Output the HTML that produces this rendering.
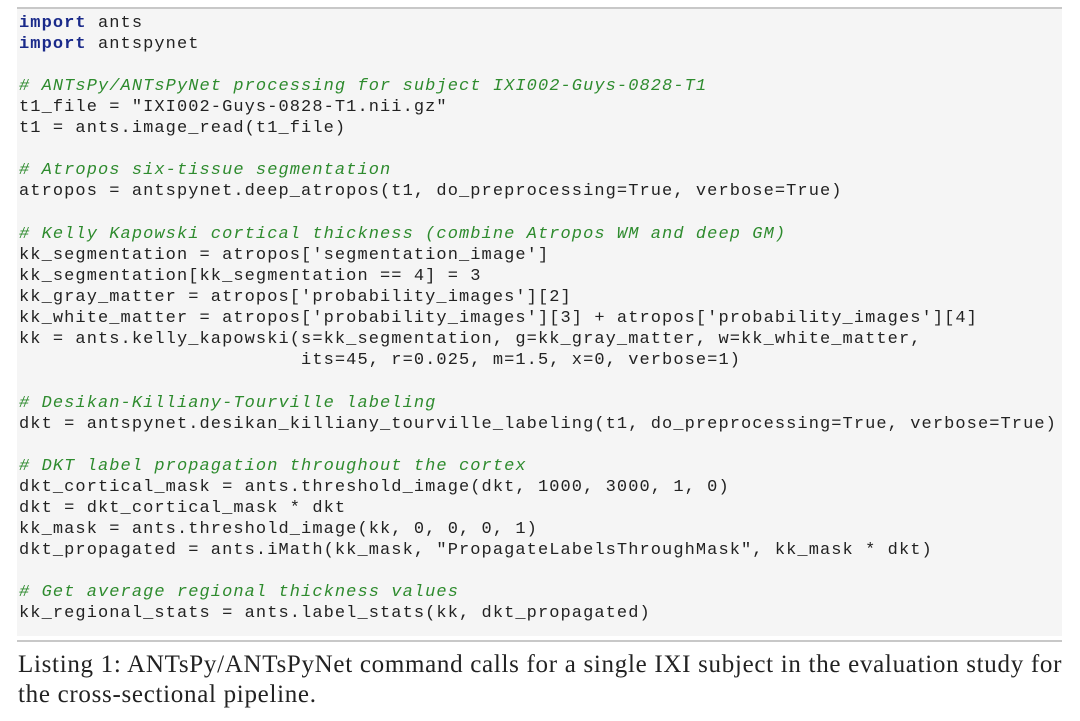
<!DOCTYPE html>
<html><head><meta charset="utf-8"><style>
body{margin:0;width:1080px;height:721px;background:#fff;overflow:hidden;position:relative}
.box{position:absolute;left:17px;top:9px;width:1045px;height:627px;background:#f5f5f5}
.rt{position:absolute;left:17px;width:1045px;height:2px;background:#c8c8c8}
.l{position:absolute;left:19px;font-family:"Liberation Mono",monospace;font-size:17px;letter-spacing:1.08px;color:#222;white-space:pre;line-height:21px}
.k{color:#1a2a8a;font-weight:bold}
.c{color:#2e8b2e;font-style:italic}
.cap{position:absolute;left:18px;font-family:"Liberation Serif",serif;font-size:25px;letter-spacing:0.7px;color:#222;white-space:pre}
</style></head><body>
<div class="rt" style="top:7px"></div>
<div class="box"></div>
<div class="rt" style="top:640px"></div>
<div class="l" style="top:13px"><span class="k">import</span> ants</div>
<div class="l" style="top:34px"><span class="k">import</span> antspynet</div>
<div class="l c" style="top:76px"># ANTsPy/ANTsPyNet processing for subject IXI002-Guys-0828-T1</div>
<div class="l" style="top:97px">t1_file = "IXI002-Guys-0828-T1.nii.gz"</div>
<div class="l" style="top:118px">t1 = ants.image_read(t1_file)</div>
<div class="l c" style="top:160px"># Atropos six-tissue segmentation</div>
<div class="l" style="top:181px">atropos = antspynet.deep_atropos(t1, do_preprocessing=True, verbose=True)</div>
<div class="l c" style="top:224px"># Kelly Kapowski cortical thickness (combine Atropos WM and deep GM)</div>
<div class="l" style="top:245px">kk_segmentation = atropos['segmentation_image']</div>
<div class="l" style="top:266px">kk_segmentation[kk_segmentation == 4] = 3</div>
<div class="l" style="top:287px">kk_gray_matter = atropos['probability_images'][2]</div>
<div class="l" style="top:308px">kk_white_matter = atropos['probability_images'][3] + atropos['probability_images'][4]</div>
<div class="l" style="top:329px">kk = ants.kelly_kapowski(s=kk_segmentation, g=kk_gray_matter, w=kk_white_matter,</div>
<div class="l" style="top:350px">                         its=45, r=0.025, m=1.5, x=0, verbose=1)</div>
<div class="l c" style="top:393px"># Desikan-Killiany-Tourville labeling</div>
<div class="l" style="top:414px">dkt = antspynet.desikan_killiany_tourville_labeling(t1, do_preprocessing=True, verbose=True)</div>
<div class="l c" style="top:456px"># DKT label propagation throughout the cortex</div>
<div class="l" style="top:477px">dkt_cortical_mask = ants.threshold_image(dkt, 1000, 3000, 1, 0)</div>
<div class="l" style="top:498px">dkt = dkt_cortical_mask * dkt</div>
<div class="l" style="top:519px">kk_mask = ants.threshold_image(kk, 0, 0, 0, 1)</div>
<div class="l" style="top:540px">dkt_propagated = ants.iMath(kk_mask, "PropagateLabelsThroughMask", kk_mask * dkt)</div>
<div class="l c" style="top:582px"># Get average regional thickness values</div>
<div class="l" style="top:603px">kk_regional_stats = ants.label_stats(kk, dkt_propagated)</div>
<div class="cap" style="top:651px">Listing 1: ANTsPy/ANTsPyNet command calls for a single IXI subject in the evaluation study for</div>
<div class="cap" style="top:681px">the cross-sectional pipeline.</div>
</body></html>
